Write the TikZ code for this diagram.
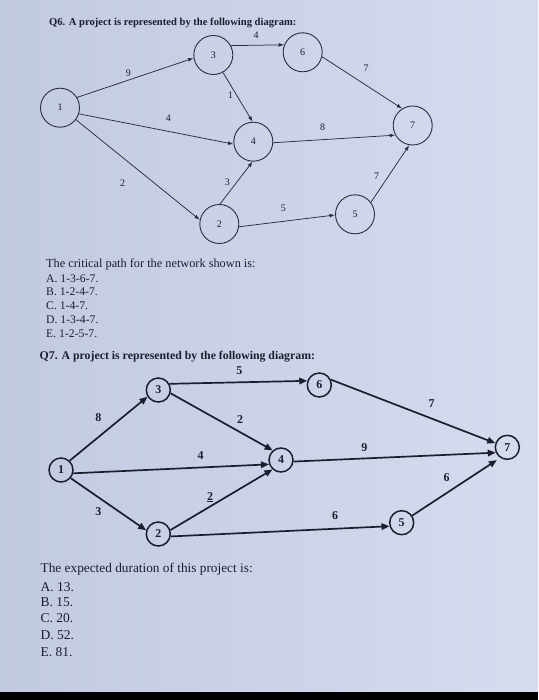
\documentclass[tikz,border=0pt]{standalone}
\usepackage{fontspec}
\setmainfont{Liberation Serif}
\usetikzlibrary{arrows.meta}
\definecolor{bgL}{RGB}{194,202,226}
\definecolor{bgR}{RGB}{214,220,238}
\definecolor{inkc}{RGB}{28,30,46}
\definecolor{thinc}{RGB}{42,45,64}
\tikzset{
  sn/.style={circle, draw=thinc, line width=0.9pt, minimum size=39pt, inner sep=0pt,
    font=\fontsize{10}{11}\selectfont, text=inkc},
  bn/.style={circle, draw=inkc, line width=1.5pt, minimum size=24pt, inner sep=0pt,
    font=\fontsize{12}{14}\selectfont\bfseries, text=inkc},
  sa/.style={draw=thinc, line width=0.75pt, -{Latex[length=5.5pt,width=3.8pt]}},
  ba/.style={draw=inkc, line width=1.7pt, -{Triangle[length=8pt,width=6.5pt]}},
  sl/.style={font=\fontsize{10}{11}\selectfont, text=inkc, inner sep=0pt},
  bl/.style={font=\fontsize{12}{14}\selectfont\bfseries, text=inkc, inner sep=0pt},
  txt/.style={anchor=west, inner sep=0pt, text=inkc},
}
\begin{document}
\begin{tikzpicture}[x=1pt,y=-1pt]
\useasboundingbox (0,0) rectangle (538,700);
\shade[left color=bgL, right color=bgR] (0,0) rectangle (538,692);
\fill[black] (0,692) rectangle (538,700);

% ---------- Q6 ----------
\node[txt, font=\fontsize{10.6}{12}\selectfont\bfseries] (t6) at (49,23) {Q6. A project is represented by the following diagram:};

\node[sn] (n1) at (60,107.7) {1};
\node[sn] (n3) at (213.3,55) {3};
\node[sn] (n6) at (302.7,52.3) {6};
\node[sn] (n4) at (253.3,141.7) {4};
\node[sn] (n7) at (412.7,125.5) {7};
\node[sn] (n2) at (219.3,224) {2};
\node[sn] (n5) at (355,214.3) {5};

\draw[sa] (n1.31) -- (n3.189);
\draw[sa] (n3.28) -- (n6.158);
\draw[sa] (n1.-18) -- (n4.187);
\draw[sa] (n1.-37) -- (n2.168);
\draw[sa] (n3.-61) -- (n4.92);
\draw[sa] (n2.88) -- (n4.-92);
\draw[sa] (n2.-8) -- (n5.182);
\draw[sa] (n4.-3) -- (n7.209);
\draw[sa] (n6.-13) -- (n7.122);
\draw[sa] (n5.37) -- (n7.-100);

\node[sl] (l13) at (128.3,73.3) {9};
\node[sl] (l36) at (256,35) {4};
\node[sl] (l34) at (230.7,95) {1};
\node[sl] (l14) at (168.3,118.3) {4};
\node[sl] (l12) at (122.7,183.3) {2};
\node[sl] (l24) at (227.3,182.7) {3};
\node[sl] (l67) at (366,68.3) {7};
\node[sl] (l47) at (322.7,127.7) {8};
\node[sl] (l57) at (376.7,176.7) {7};
\node[sl] (l25) at (283.3,208.3) {5};

\node[txt, font=\fontsize{12.3}{13}\selectfont] (q6) at (46,264.3) {The critical path for the network shown is:};
\node[txt, font=\fontsize{11.7}{13}\selectfont] (a6) at (46,278.3) {A. 1-3-6-7.};
\node[txt, font=\fontsize{11.7}{13}\selectfont] (b6) at (46,292) {B. 1-2-4-7.};
\node[txt, font=\fontsize{11.7}{13}\selectfont] (c6) at (46,305.8) {C. 1-4-7.};
\node[txt, font=\fontsize{11.7}{13}\selectfont] (d6) at (46,319.5) {D. 1-3-4-7.};
\node[txt, font=\fontsize{11.7}{13}\selectfont] (e6) at (46,333.3) {E. 1-2-5-7.};

% ---------- Q7 ----------
\node[txt, font=\fontsize{11.8}{13}\selectfont\bfseries] (t7) at (39.5,356.7) {Q7. A project is represented by the following diagram:};

\node[bn] (m1) at (61,470) {1};
\node[bn] (m3) at (158.3,390) {3};
\node[bn] (m6) at (319.3,385) {6};
\node[bn] (m4) at (281,460) {4};
\node[bn] (m7) at (507.3,447.3) {7};
\node[bn] (m2) at (158.3,534) {2};
\node[bn] (m5) at (401.7,522.7) {5};

\draw[ba] (m1.47) -- (m3.212);
\draw[ba] (m3.29) -- (m6.161);
\draw[ba] (m3.-15) -- (m4.131);
\draw[ba] (m1.-15) -- (m4.200);
\draw[ba] (m1.-40) -- (m2.163);
\draw[ba] (m2.18) -- (m4.228);
\draw[ba] (m2.-11) -- (m5.196);
\draw[ba] (m6.25) -- (m7.161);
\draw[ba] (m4.-7) -- (m7.205);
\draw[ba, shorten >=4pt] (m5.34) -- (m7.236);

\node[bl] (k36) at (239.3,370.7) {5};
\node[bl] (k13) at (98.3,417.3) {8};
\node[bl] (k34) at (240,420) {2};
\node[bl] (k14) at (200.7,456) {4};
\node[bl] (k24) at (210,497.3) {\underline{2}};
\node[bl] (k12) at (98.3,511.7) {3};
\node[bl] (k67) at (431.7,403.3) {7};
\node[bl] (k47) at (364.3,447.3) {9};
\node[bl] (k57) at (446.7,477.3) {6};
\node[bl] (k25) at (335,516) {6};

\node[txt, font=\fontsize{13.3}{15}\selectfont] (q7) at (40.5,569.3) {The expected duration of this project is:};
\node[txt, font=\fontsize{13.5}{15}\selectfont] (a7) at (40.5,587.3) {A. 13.};
\node[txt, font=\fontsize{13.5}{15}\selectfont] (b7) at (40.5,602.3) {B. 15.};
\node[txt, font=\fontsize{13.5}{15}\selectfont] (c7) at (40.5,618.3) {C. 20.};
\node[txt, font=\fontsize{13.5}{15}\selectfont] (d7) at (40.5,635.3) {D. 52.};
\node[txt, font=\fontsize{13.5}{15}\selectfont] (e7) at (40.5,651.7) {E. 81.};
\end{tikzpicture}
\end{document}
